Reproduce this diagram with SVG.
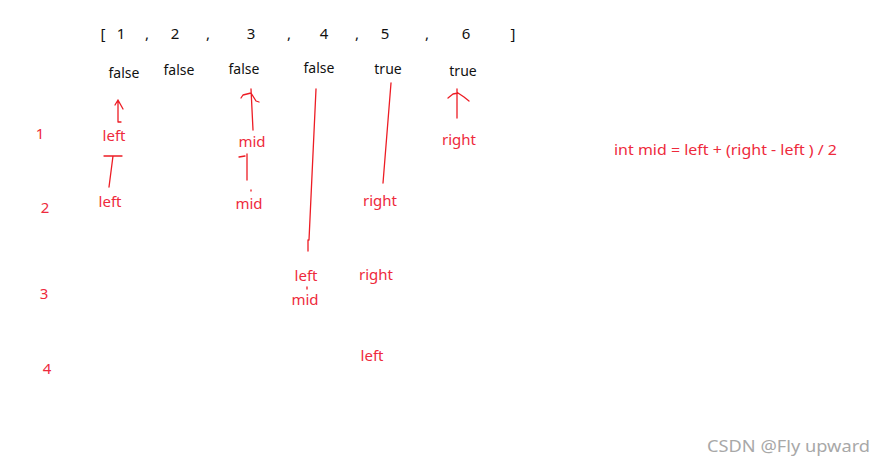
<svg xmlns="http://www.w3.org/2000/svg" width="884" height="466" viewBox="0 0 884 466">
<style>
text{font-family:"Noto Sans","Open Sans","DejaVu Sans",sans-serif;}
.a{font-size:15px;fill:#111;text-anchor:middle;}
.b{font-size:14px;fill:#111;text-anchor:middle;}
.r{font-size:15px;fill:#ee2a3c;text-anchor:middle;}
.n{font-size:15px;fill:#ee2a3c;text-anchor:middle;}
.s{fill:none;stroke:#ed1c24;stroke-width:1.3;stroke-linecap:round;stroke-linejoin:round;}
</style>
<rect width="884" height="466" fill="#fff"/>
<g id="array">
<text class="a" x="103" y="39">[</text>
<text class="a" x="121" y="39">1</text>
<text class="a" x="147" y="39">,</text>
<text class="a" x="175" y="39">2</text>
<text class="a" x="208" y="39">,</text>
<text class="a" x="251" y="39">3</text>
<text class="a" x="289" y="39">,</text>
<text class="a" x="324" y="39">4</text>
<text class="a" x="357" y="39">,</text>
<text class="a" x="385" y="39">5</text>
<text class="a" x="427" y="39">,</text>
<text class="a" x="466" y="39">6</text>
<text class="a" x="513" y="39">]</text>
</g>
<g id="bools">
<text class="b" x="124" y="78">false</text>
<text class="b" x="179" y="75">false</text>
<text class="b" x="244" y="74">false</text>
<text class="b" x="319" y="73">false</text>
<text class="b" x="388" y="74">true</text>
<text class="b" x="463" y="76">true</text>
</g>
<g id="rows">
<text class="n" x="40" y="139">1</text>
<text class="n" x="45" y="213">2</text>
<text class="n" x="44" y="299">3</text>
<text class="n" x="47" y="374">4</text>
</g>
<g id="connectors">
<path class="s" d="M121,122 H118 V100 M115,105 L118,100 L123,109"/>
<path class="s" d="M104,156 H122 M113,156 L109,187"/>
<path class="s" d="M251,89 L253,130 M241,98 L243,95 L251,93 L256,101 L259,102"/>
<path class="s" d="M239,157 L245,156 M247,154 L247,180 M251,190 V191"/>
<path class="s" d="M316,89 L309,240 M308,240 L308,251 M307,287 V289"/>
<path class="s" d="M391,83 L383,183"/>
<path class="s" d="M457,89 V118 M448,98 L453,94 L458,93 L464,97 L469,101"/>
</g>
<g id="labels">
<text class="r" x="114" y="141">left</text>
<text class="r" x="110" y="207">left</text>
<text class="r" x="252" y="147">mid</text>
<text class="r" x="249" y="209">mid</text>
<text class="r" x="459" y="145">right</text>
<text class="r" x="380" y="206">right</text>
<text class="r" x="306" y="281">left</text>
<text class="r" x="305" y="305">mid</text>
<text class="r" x="376" y="280">right</text>
<text class="r" x="372" y="361">left</text>
</g>
<g id="formula">
<text x="614" y="155" style="font-size:15px;fill:#ee2a3c;" textLength="223" lengthAdjust="spacingAndGlyphs">int mid = left + (right - left ) / 2</text>
</g>
<text x="707" y="452" style="font-size:16px;fill:#a8a8a8;" textLength="163" lengthAdjust="spacingAndGlyphs">CSDN @Fly upward</text>
</svg>
